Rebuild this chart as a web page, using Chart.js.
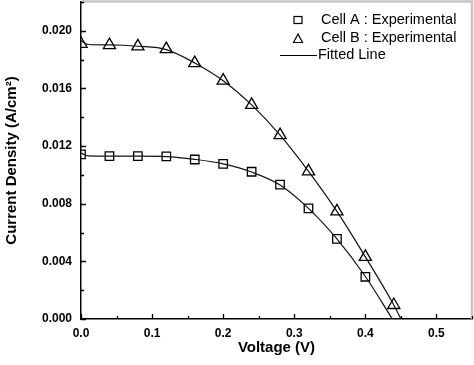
<!DOCTYPE html>
<html>
<head>
<meta charset="utf-8">
<script src="https://cdn.jsdelivr.net/npm/chart.js@4"></script>
<style>
  html, body { margin: 0; padding: 0; background: #fff; }
  #wrap { width: 474px; height: 365px; }
</style>
</head>
<body>
<div id="wrap"><canvas id="grafico" width="474" height="365"></canvas></div>
<script>
// experimental points
const voltsExp = [0, 0.04, 0.08, 0.12, 0.16, 0.20, 0.24, 0.28, 0.32, 0.36, 0.40, 0.44];
const cellA = [0.01142, 0.01130, 0.01130, 0.01128, 0.01107, 0.01077, 0.01022, 0.00932, 0.00768, 0.00556, 0.00293, null];
const cellB = [0.01910, 0.01901, 0.01892, 0.01873, 0.01776, 0.01654, 0.01486, 0.01276, 0.01025, 0.00747, 0.00431, 0.00097];

// fitted curves
const fitAVolts = [0, 0.01, 0.04, 0.08, 0.12, 0.16, 0.20, 0.24, 0.28, 0.32, 0.36, 0.40, 0.438];
const fitA = [0.01152, 0.01132, 0.01130, 0.01130, 0.01127, 0.01108, 0.01077, 0.01020, 0.00930, 0.00768, 0.00556, 0.00295, 0];
const fitBVolts = [0, 0.01, 0.04, 0.08, 0.12, 0.16, 0.20, 0.24, 0.28, 0.32, 0.36, 0.40, 0.44, 0.450];
const fitB = [0.01930, 0.01905, 0.01902, 0.01893, 0.01870, 0.01777, 0.01654, 0.01486, 0.01276, 0.01025, 0.00747, 0.00431, 0.00097, 0];

const xTicks = [0, 0.1, 0.2, 0.3, 0.4, 0.5];
const yTicks = [0, 0.004, 0.008, 0.012, 0.016, 0.020];

const legendItems = ['Cell A : Experimental', 'Cell B : Experimental', 'Fitted Line'];

function pares(xs, ys) {
  return xs.map((x, i) => ({ x: x, y: ys[i] })).filter(p => p.y !== null);
}

function semPadding(s) {
  s.paddingTop = 0;
  s.paddingBottom = 0;
  s.paddingLeft = 0;
  s.paddingRight = 0;
}

// inward ticks, frame and legend
const moldura = {
  id: 'moldura',
  afterDraw(chart) {
    const ctx = chart.ctx;
    const a = chart.chartArea;
    const sx = chart.scales.x, sy = chart.scales.y;
    ctx.save();
    // grey frame top / right
    ctx.strokeStyle = '#c4c4c4';
    ctx.lineWidth = 2.5;
    ctx.beginPath();
    ctx.moveTo(a.left, a.top - 0.5);
    ctx.lineTo(a.right, a.top - 0.5);
    ctx.lineTo(a.right, a.bottom);
    ctx.stroke();

    ctx.strokeStyle = '#000';
    ctx.lineWidth = 1.3;
    ctx.beginPath();
    for (let v = 0; v <= 0.5501; v += 0.05) {
      const px = Math.round(sx.getPixelForValue(v)) + 0.5;
      const major = Math.abs(v / 0.1 - Math.round(v / 0.1)) < 0.01;
      ctx.moveTo(px, a.bottom);
      ctx.lineTo(px, a.bottom - (major ? 5 : 3));
    }
    for (let v = 0; v <= 0.0221; v += 0.002) {
      const py = Math.round(sy.getPixelForValue(v)) + 0.5;
      const major = Math.abs(v / 0.004 - Math.round(v / 0.004)) < 0.01;
      ctx.moveTo(a.left, py);
      ctx.lineTo(a.left + (major ? 5 : 3), py);
    }
    ctx.stroke();

    // legend
    ctx.font = '14.5px "Liberation Sans", Arial, sans-serif';
    ctx.fillStyle = '#000';
    ctx.textBaseline = 'middle';
    ctx.textAlign = 'left';
    const linhas = [20, 38, 55];
    ctx.lineWidth = 1.2;
    ctx.strokeRect(294, 16.5, 8, 7);
    ctx.beginPath();
    ctx.moveTo(293.5, 42.5);
    ctx.lineTo(298, 34);
    ctx.lineTo(302.5, 42.5);
    ctx.closePath();
    ctx.stroke();
    ctx.beginPath();
    ctx.moveTo(280, 55.5);
    ctx.lineTo(317, 55.5);
    ctx.stroke();
    ctx.fillText(legendItems[0], 321, linhas[0]);
    ctx.fillText(legendItems[1], 321, linhas[1]);
    ctx.fillText(legendItems[2], 318, linhas[2]);
    ctx.restore();
  }
};

const fonteTick = { family: '"Liberation Sans", Arial, sans-serif', size: 12, weight: 'bold' };
const fonteTitulo = { family: '"Liberation Sans", Arial, sans-serif', size: 15, weight: 'bold' };

new Chart(document.getElementById('grafico'), {
  type: 'scatter',
  data: {
    datasets: [
      {
        label: 'Fit A',
        data: pares(fitAVolts, fitA),
        showLine: true,
        borderColor: '#111',
        borderWidth: 1.2,
        pointRadius: 0,
        cubicInterpolationMode: 'monotone',
        clip: 0
      },
      {
        label: 'Fit B',
        data: pares(fitBVolts, fitB),
        showLine: true,
        borderColor: '#111',
        borderWidth: 1.2,
        pointRadius: 0,
        cubicInterpolationMode: 'monotone',
        clip: 0
      },
      {
        label: legendItems[0],
        data: pares(voltsExp, cellA),
        pointStyle: 'rect',
        pointRadius: 6,
        pointBorderColor: '#000',
        pointBackgroundColor: 'rgba(0,0,0,0)',
        pointBorderWidth: 1.3,
        clip: 0
      },
      {
        label: legendItems[1],
        data: pares(voltsExp, cellB),
        pointStyle: 'triangle',
        pointRadius: 7,
        pointBorderColor: '#000',
        pointBackgroundColor: 'rgba(0,0,0,0)',
        pointBorderWidth: 1.3,
        clip: 0
      }
    ]
  },
  options: {
    responsive: false,
    animation: false,
    layout: { autoPadding: false, padding: { top: 2, right: 2, left: 0, bottom: 0 } },
    plugins: { legend: { display: false }, tooltip: { enabled: false } },
    scales: {
      x: {
        type: 'linear',
        min: 0,
        max: 0.55,
        afterFit: s => { s.height = 46; semPadding(s); },
        afterBuildTicks: s => { s.ticks = xTicks.map(v => ({ value: v })); },
        grid: { display: false, drawTicks: true, tickLength: 7 },
        border: { display: true, color: '#000', width: 1.5 },
        ticks: { color: '#000', font: fonteTick, padding: 0, maxRotation: 0, callback: v => v.toFixed(1) },
        title: { display: true, text: 'Voltage (V)', color: '#000', font: fonteTitulo, padding: { top: 2, bottom: 8 } }
      },
      y: {
        type: 'linear',
        min: 0,
        max: 0.022,
        afterFit: s => { s.width = 81; semPadding(s); },
        afterBuildTicks: s => { s.ticks = yTicks.map(v => ({ value: v })); },
        grid: { display: false, drawTicks: true, tickLength: 9 },
        border: { display: true, color: '#000', width: 1.5 },
        ticks: { color: '#000', font: fonteTick, padding: 0, callback: v => v.toFixed(3) },
        title: { display: true, text: 'Current Density (A/cm²)', color: '#000', font: fonteTitulo, padding: { top: 3, bottom: 4 } }
      }
    }
  },
  plugins: [moldura]
});
</script>
</body>
</html>
